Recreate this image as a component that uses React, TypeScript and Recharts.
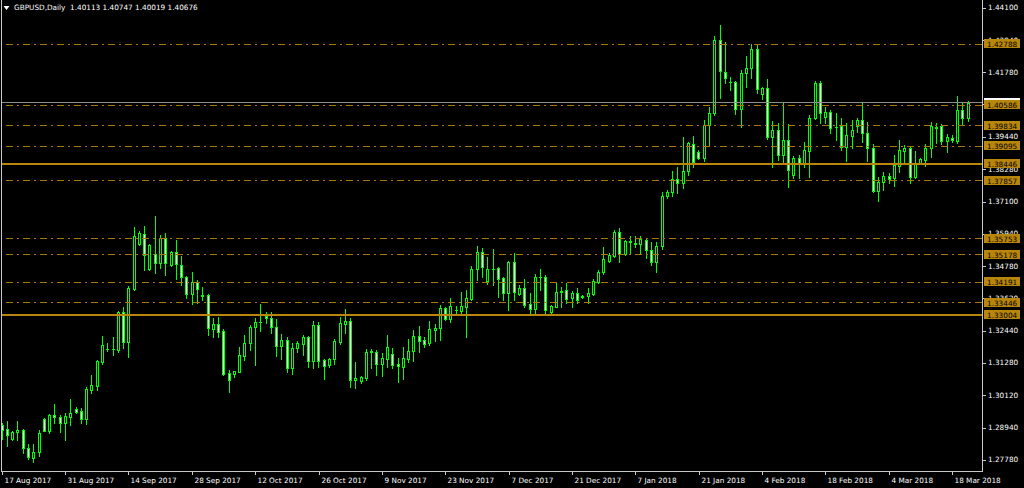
import React from "react";
import { Bar, ComposedChart, ReferenceLine, XAxis, YAxis } from "recharts";

const opens = [
  1.2904, 1.2888, 1.2853, 1.2877, 1.2885, 1.2819, 1.2785, 1.2807, 1.2926, 1.2882,
  1.2941, 1.2933, 1.2912, 1.2933, 1.296, 1.2953, 1.2925, 1.303, 1.3045, 1.313,
  1.3177, 1.3179, 1.3174, 1.331, 1.3204, 1.3393, 1.3556, 1.3593, 1.3467, 1.352,
  1.3489, 1.3578, 1.3481, 1.3527, 1.3481, 1.3439, 1.3375, 1.3419, 1.3369, 1.3373,
  1.3251, 1.3268, 1.3243, 1.309, 1.3088, 1.3096, 1.3152, 1.3198, 1.3256, 1.3275,
  1.3298, 1.3289, 1.3256, 1.3189, 1.321, 1.3108, 1.318, 1.3196, 1.3222, 1.3136,
  1.3264, 1.3138, 1.312, 1.3141, 1.3204, 1.3268, 1.328, 1.3066, 1.3063, 1.3072,
  1.3167, 1.3168, 1.3123, 1.3142, 1.3159, 1.3123, 1.3114, 1.3142, 1.3171, 1.3226,
  1.321, 1.3198, 1.3246, 1.3253, 1.3327, 1.3286, 1.332, 1.3316, 1.3331, 1.3358,
  1.3466, 1.3527, 1.3424, 1.3466, 1.3469, 1.3433, 1.3379, 1.3491, 1.3376, 1.3397,
  1.334, 1.3322, 1.3436, 1.3439, 1.331, 1.3331, 1.3384, 1.3391, 1.3361, 1.3379,
  1.3366, 1.3369, 1.3375, 1.3421, 1.3455, 1.3497, 1.3514, 1.3601, 1.352, 1.3564,
  1.356, 1.3557, 1.3571, 1.3535, 1.3491, 1.355, 1.373, 1.3744, 1.379, 1.3776,
  1.3822, 1.3917, 1.3888, 1.3866, 1.3985, 1.4031, 1.4293, 1.4179, 1.414, 1.4141,
  1.4043, 1.4173, 1.4193, 1.426, 1.4098, 1.4119, 1.3942, 1.3968, 1.3878, 1.3932,
  1.3806, 1.3866, 1.3846, 1.3894, 1.4013, 1.4139, 1.4014, 1.4034, 1.3979, 1.3983,
  1.3908, 1.3947, 1.3983, 1.4004, 1.3959, 1.3904, 1.3749, 1.3782, 1.3802, 1.3794,
  1.384, 1.3894, 1.3904, 1.38, 1.385, 1.386, 1.3902, 1.3978, 1.3983, 1.3929,
  1.3941, 1.3929, 1.4041, 1.40113,
];

const highs = [
  1.291, 1.2918, 1.2882, 1.2918, 1.289, 1.2834, 1.2834, 1.2885, 1.2928, 1.2943,
  1.2979, 1.294, 1.2946, 1.2996, 1.2967, 1.2964, 1.3042, 1.3084, 1.3138, 1.3225,
  1.3198, 1.3222, 1.3315, 1.333, 1.3405, 1.3617, 1.3605, 1.3622, 1.3556, 1.3658,
  1.3589, 1.3598, 1.3532, 1.3571, 1.3514, 1.3441, 1.3456, 1.3427, 1.3401, 1.3375,
  1.3289, 1.3294, 1.3249, 1.3102, 1.31, 1.3184, 1.3228, 1.3264, 1.3291, 1.3339,
  1.331, 1.331, 1.3285, 1.3231, 1.322, 1.3198, 1.3208, 1.3228, 1.3226, 1.328,
  1.3276, 1.3141, 1.3144, 1.3213, 1.3294, 1.3321, 1.3291, 1.3132, 1.308, 1.3177,
  1.3177, 1.3174, 1.3164, 1.3228, 1.318, 1.3144, 1.3186, 1.3213, 1.3246, 1.3261,
  1.322, 1.328, 1.3268, 1.3337, 1.3329, 1.3361, 1.3333, 1.3385, 1.3391, 1.3477,
  1.3551, 1.3541, 1.3511, 1.3538, 1.3475, 1.3437, 1.3497, 1.3523, 1.3409, 1.3429,
  1.3381, 1.3447, 1.3467, 1.3445, 1.3337, 1.3419, 1.3403, 1.3417, 1.3388, 1.3397,
  1.3373, 1.3397, 1.3429, 1.3463, 1.3545, 1.3523, 1.3607, 1.3613, 1.3571, 1.3586,
  1.3586, 1.3586, 1.3577, 1.3563, 1.3565, 1.3744, 1.3752, 1.382, 1.3836, 1.3944,
  1.3926, 1.3947, 1.3896, 1.4004, 1.405, 1.4308, 1.4347, 1.4287, 1.4161, 1.4145,
  1.4185, 1.4235, 1.4279, 1.4279, 1.4125, 1.4151, 1.4001, 1.3993, 1.4067, 1.3989,
  1.3875, 1.3878, 1.3924, 1.4023, 1.4146, 1.4146, 1.405, 1.4041, 1.4029, 1.4011,
  1.3993, 1.4004, 1.4013, 1.4068, 1.3998, 1.3918, 1.3798, 1.3818, 1.3812, 1.3878,
  1.3932, 1.3914, 1.3911, 1.3894, 1.3866, 1.3918, 1.3998, 1.3995, 1.3989, 1.3954,
  1.395, 1.4091, 1.4065, 1.40747,
];

const lows = [
  1.2852, 1.2829, 1.2849, 1.2849, 1.2804, 1.278, 1.2771, 1.2792, 1.288, 1.2873,
  1.2912, 1.2877, 1.2849, 1.2904, 1.2946, 1.2912, 1.2907, 1.3018, 1.303, 1.3123,
  1.3172, 1.3156, 1.3168, 1.3182, 1.3148, 1.3391, 1.3553, 1.3463, 1.3463, 1.3451,
  1.3469, 1.3445, 1.3477, 1.3431, 1.3409, 1.3363, 1.3341, 1.3345, 1.3355, 1.3228,
  1.322, 1.3222, 1.3084, 1.3024, 1.3076, 1.3094, 1.3138, 1.3174, 1.312, 1.3244,
  1.3271, 1.3237, 1.3152, 1.314, 1.3096, 1.3088, 1.3168, 1.3156, 1.3112, 1.3108,
  1.3112, 1.3068, 1.3114, 1.3124, 1.3196, 1.3237, 1.3042, 1.3036, 1.3054, 1.3066,
  1.3108, 1.3084, 1.3081, 1.3112, 1.3108, 1.306, 1.3069, 1.3132, 1.3134, 1.3168,
  1.3184, 1.3192, 1.3208, 1.321, 1.3283, 1.3276, 1.3307, 1.3301, 1.322, 1.3355,
  1.3427, 1.3439, 1.3413, 1.3409, 1.3367, 1.3355, 1.3319, 1.3355, 1.3373, 1.3328,
  1.3301, 1.3307, 1.3391, 1.3301, 1.3304, 1.3328, 1.3328, 1.3343, 1.3331, 1.3343,
  1.3361, 1.3345, 1.3373, 1.3415, 1.3449, 1.3493, 1.3509, 1.3493, 1.3517, 1.3523,
  1.3547, 1.3523, 1.3505, 1.3481, 1.3457, 1.3538, 1.3722, 1.3731, 1.3742, 1.3758,
  1.3806, 1.3836, 1.3863, 1.3858, 1.3914, 1.4023, 1.4083, 1.4137, 1.4113, 1.4025,
  1.3978, 1.4125, 1.4155, 1.4101, 1.408, 1.3936, 1.3836, 1.386, 1.3846, 1.3764,
  1.3794, 1.3794, 1.3836, 1.38, 1.4007, 1.3995, 1.3995, 1.3956, 1.3932, 1.3896,
  1.3858, 1.3902, 1.3962, 1.3926, 1.3858, 1.3746, 1.3713, 1.3752, 1.3778, 1.3766,
  1.3818, 1.3848, 1.3778, 1.3794, 1.3846, 1.3838, 1.3872, 1.392, 1.3918, 1.3888,
  1.3926, 1.392, 1.3986, 1.40019,
];

const closes = [
  1.2885, 1.2866, 1.2878, 1.2885, 1.2819, 1.2787, 1.2807, 1.2876, 1.2882, 1.2941,
  1.2931, 1.2912, 1.2936, 1.2946, 1.295, 1.2926, 1.3032, 1.3048, 1.3134, 1.3192,
  1.3179, 1.3177, 1.331, 1.3204, 1.3397, 1.3586, 1.3596, 1.3517, 1.3553, 1.3489,
  1.3578, 1.3489, 1.3527, 1.3484, 1.3437, 1.3375, 1.3419, 1.3393, 1.3371, 1.3253,
  1.3268, 1.324, 1.3088, 1.3066, 1.3098, 1.3156, 1.3201, 1.3258, 1.3274, 1.3277,
  1.3291, 1.3258, 1.3189, 1.321, 1.3108, 1.318, 1.3198, 1.3222, 1.3136, 1.3264,
  1.3136, 1.3118, 1.3141, 1.3207, 1.3271, 1.328, 1.3066, 1.3072, 1.3076, 1.3168,
  1.3169, 1.3123, 1.3144, 1.3186, 1.312, 1.3117, 1.3144, 1.3172, 1.3226, 1.3207,
  1.3196, 1.3249, 1.3255, 1.3327, 1.3285, 1.3333, 1.3318, 1.3334, 1.3361, 1.3467,
  1.3527, 1.3475, 1.3467, 1.3468, 1.3431, 1.3379, 1.3491, 1.3385, 1.3399, 1.3337,
  1.3322, 1.3437, 1.3438, 1.3319, 1.3334, 1.3382, 1.3386, 1.3358, 1.3379, 1.3355,
  1.3368, 1.3379, 1.3424, 1.3457, 1.3502, 1.3516, 1.3601, 1.352, 1.3568, 1.3566,
  1.3558, 1.3574, 1.3535, 1.3491, 1.3551, 1.373, 1.3744, 1.379, 1.3776, 1.3822,
  1.392, 1.3854, 1.3866, 1.3985, 1.4031, 1.4293, 1.4182, 1.4155, 1.4142, 1.4043,
  1.4173, 1.4193, 1.426, 1.4116, 1.4119, 1.3942, 1.3968, 1.3878, 1.3932, 1.3824,
  1.3866, 1.3848, 1.3896, 1.4013, 1.4139, 1.4029, 1.4034, 1.3974, 1.3981, 1.3908,
  1.395, 1.3968, 1.4004, 1.3956, 1.3902, 1.3749, 1.3782, 1.3802, 1.3791, 1.3842,
  1.3896, 1.3904, 1.38, 1.3846, 1.3863, 1.3902, 1.3984, 1.3976, 1.3929, 1.3944,
  1.3932, 1.4041, 1.4013, 1.40676,
];

// one date label every 12 bars
const dateTicks = [0, 12, 24, 36, 48, 60, 72, 84, 96, 108, 120, 132, 144, 156, 168, 180];
const dateLabels = [
  "17 Aug 2017", "31 Aug 2017", "14 Sep 2017", "28 Sep 2017", "12 Oct 2017", "26 Oct 2017",
  "9 Nov 2017", "23 Nov 2017", "7 Dec 2017", "21 Dec 2017", "7 Jan 2018", "21 Jan 2018",
  "4 Feb 2018", "18 Feb 2018", "4 Mar 2018", "18 Mar 2018",
];

const priceTicks = [
  1.441, 1.4294, 1.4178, 1.4062, 1.3944, 1.3828, 1.371, 1.3594, 1.3478, 1.3362,
  1.3244, 1.3128, 1.3012, 1.2894, 1.2778,
];

const dashedLevels = [1.42788, 1.40586, 1.39834, 1.39095, 1.37857, 1.35753, 1.35178, 1.34191, 1.33446];
const solidLevels = [1.38446, 1.33004];
const bidPrice = 1.40676;

const symbolLabel = "GBPUSD,Daily";
const lastBarText = "1.40113 1.40747 1.40019 1.40676";

const WIDTH = 1024;
const HEIGHT = 488;
const Y_MIN = 1.27337;
const Y_MAX = 1.44377;
const X_MIN = -0.246;
const X_MAX = 185.59;
const CANDLE = "#00ff00";
const LEVEL = "#b8860b";
const LEVEL_DASH = "#a47708";
const FONT = "'DejaVu Sans', Verdana, sans-serif";
const FONT_SIZE = 7.3;

// tags are listed after the plain ticks so they paint over them
const levelTags = [...dashedLevels, ...solidLevels];
const yTicks = [...priceTicks, bidPrice, ...levelTags];

const data = opens.map((open, i) => ({
  i,
  open,
  high: highs[i],
  low: lows[i],
  close: closes[i],
}));

function Candle(props: any) {
  const { x, y, width, height, payload } = props;
  if (x == null || !payload) return null;
  const top = Math.min(y, y + height);
  const h = Math.abs(height);
  const { open, close, high, low } = payload;
  const ppu = high > low ? h / (high - low) : 0;
  const yOf = (v: number) => top + (high - v) * ppu;
  const cx = Math.floor(x + width / 2);
  const bodyTop = Math.round(yOf(Math.max(open, close)));
  const bodyBot = Math.round(yOf(Math.min(open, close)));
  const up = close >= open;

  return (
    <g shapeRendering="crispEdges">
      <line x1={cx + 0.5} x2={cx + 0.5} y1={Math.round(top)} y2={Math.round(top + h) + 1} stroke={CANDLE} />
      {bodyBot - bodyTop < 1 ? (
        <line x1={cx - 1} x2={cx + 2} y1={bodyTop + 0.5} y2={bodyTop + 0.5} stroke={CANDLE} />
      ) : (
        <rect
          x={cx - 0.5}
          y={bodyTop + 0.5}
          width={2}
          height={bodyBot - bodyTop}
          fill={up ? "#000000" : "#ffffff"}
          stroke={CANDLE}
        />
      )}
    </g>
  );
}

function DateTick(props: any) {
  const { x, y, payload } = props;
  const idx = dateTicks.indexOf(payload.value);
  const px = Math.floor(x) + 0.5;
  return (
    <g>
      <line x1={px} x2={px} y1={y} y2={y + 3} stroke="#c8c8c8" shapeRendering="crispEdges" />
      <text x={px + 2} y={y + 11} fill="#ffffff" fontSize={FONT_SIZE} fontFamily={FONT} textAnchor="start">
        {dateLabels[idx]}
      </text>
    </g>
  );
}

function PriceTick(props: any) {
  const { x, y, payload } = props;
  const value = Number(payload.value);
  const cy = Math.round(y);
  const label = value.toFixed(5);

  if (value === bidPrice || levelTags.includes(value)) {
    const bg = value === bidPrice ? "#ffffff" : LEVEL;
    return (
      <g>
        <rect x={x + 2} y={cy - 5} width={36} height={9} fill={bg} shapeRendering="crispEdges" />
        <text x={x + 5} y={cy + 2.6} fill="#000000" fontSize={FONT_SIZE} fontFamily={FONT}>
          {label}
        </text>
      </g>
    );
  }

  return (
    <g>
      <line x1={x + 1} x2={x + 4} y1={cy + 0.5} y2={cy + 0.5} stroke="#c8c8c8" shapeRendering="crispEdges" />
      <text x={x + 6} y={y + 2.7} fill="#ffffff" fontSize={FONT_SIZE} fontFamily={FONT} textAnchor="start">
        {label}
      </text>
    </g>
  );
}

export default function App() {
  return (
    <div style={{ position: "absolute", left: 0, top: 0, width: WIDTH, height: HEIGHT, background: "#000" }}>
      <ComposedChart width={WIDTH} height={HEIGHT} data={data} margin={{ top: 0, right: 0, bottom: 0, left: 1 }}>
        <XAxis
          dataKey="i"
          type="number"
          domain={[X_MIN, X_MAX]}
          allowDataOverflow
          ticks={dateTicks}
          interval={0}
          height={16}
          axisLine={false}
          tickLine={false}
          tickSize={0}
          tickMargin={0}
          tick={<DateTick />}
        />
        <YAxis
          orientation="right"
          type="number"
          domain={[Y_MIN, Y_MAX]}
          allowDataOverflow
          ticks={yTicks}
          interval={0}
          width={42}
          axisLine={false}
          tickLine={false}
          tickSize={0}
          tickMargin={0}
          tick={<PriceTick />}
        />
        <ReferenceLine y={bidPrice} stroke="#8c8c8c" shapeRendering="crispEdges" />
        {dashedLevels.map((v) => (
          <ReferenceLine
            key={v}
            y={v}
            stroke={LEVEL_DASH}
            strokeDasharray="7 4 2 4"
            shapeRendering="crispEdges"
          />
        ))}
        {solidLevels.map((v) => (
          <ReferenceLine key={v} y={v} stroke={LEVEL} strokeWidth={2} shapeRendering="crispEdges" />
        ))}
        <Bar
          dataKey={(d: any) => [d.low, d.high]}
          barSize={3}
          shape={(p: any) => <Candle {...p} />}
          isAnimationActive={false}
        />
      </ComposedChart>
      {/* chart frame */}
      <div
        style={{
          position: "absolute",
          left: 1,
          top: 0,
          width: 980,
          height: 471,
          borderLeft: "1px solid #c8c8c8",
          borderRight: "1px solid #c8c8c8",
          borderBottom: "1px solid #c8c8c8",
          pointerEvents: "none",
        }}
      />
      <div
        style={{
          position: "absolute",
          left: 3,
          top: 3,
          color: "#ffffff",
          fontFamily: FONT,
          fontSize: FONT_SIZE,
          lineHeight: "10px",
          whiteSpace: "pre",
          display: "flex",
          alignItems: "center",
        }}
      >
        <svg width={8} height={10} style={{ marginRight: 3 }}>
          <polygon points="0.5,3 6.5,3 3.5,7" fill="#ffffff" />
        </svg>
        <span>{symbolLabel + "  " + lastBarText}</span>
      </div>
    </div>
  );
}
